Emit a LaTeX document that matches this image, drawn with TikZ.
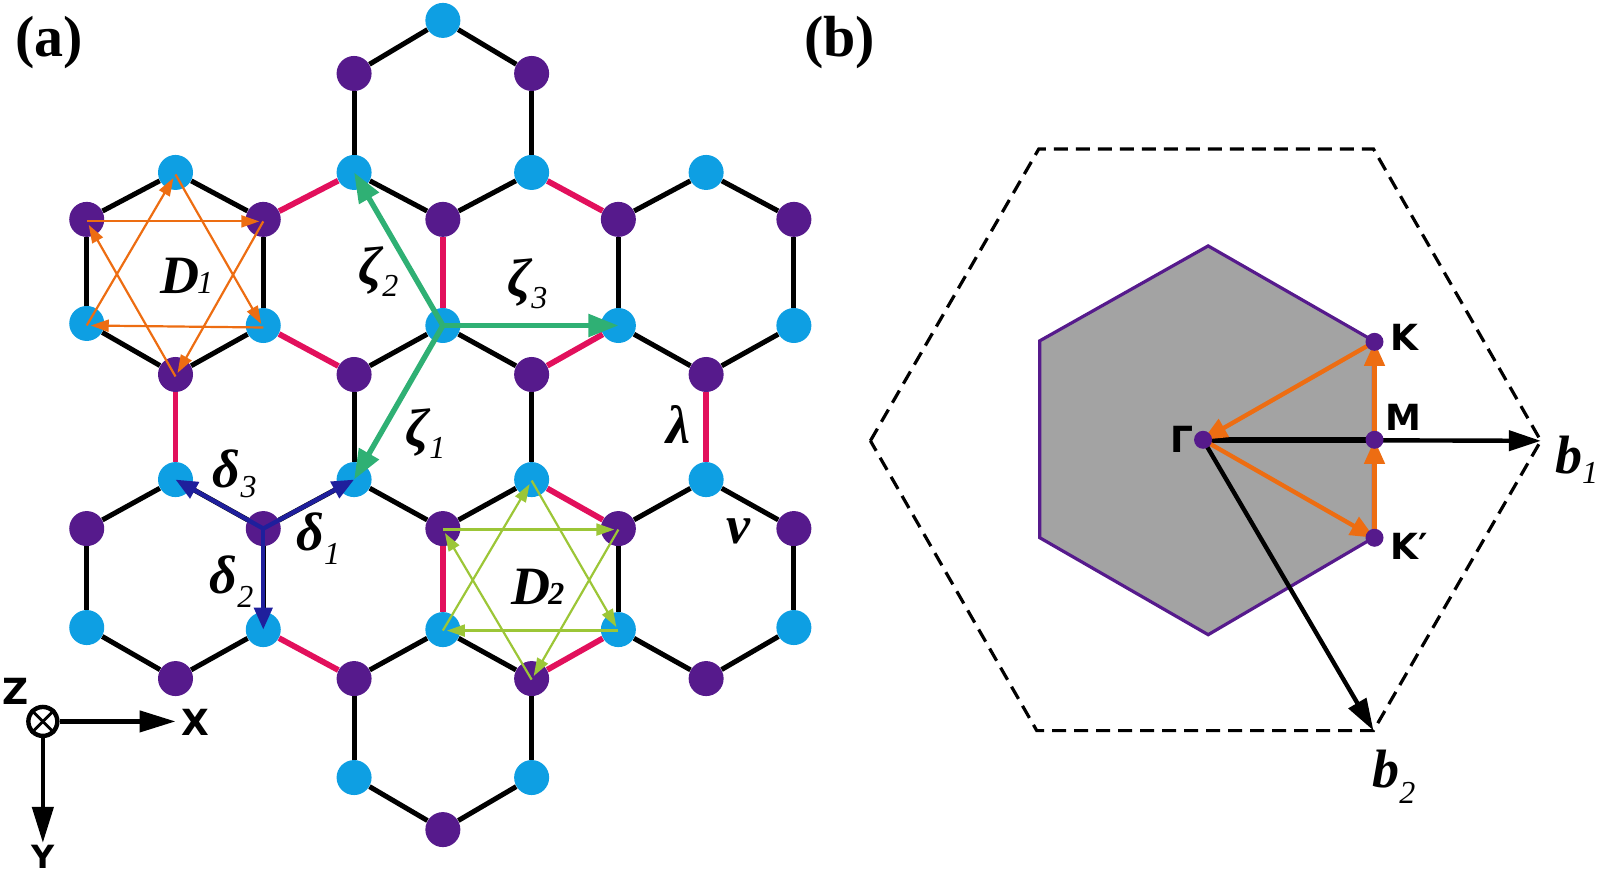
\documentclass[tikz,border=0pt]{standalone}
\usepackage{fontspec}
\setmainfont{Liberation Serif}
\newfontfamily\lblsans{DejaVu Sans}
\usetikzlibrary{arrows.meta}
\pgfdeclarelayer{front}
\pgfsetlayers{main,front}
\definecolor{sitepurple}{HTML}{561A8C}
\definecolor{siteblue}{HTML}{0E9FE3}
\definecolor{bondpink}{HTML}{E2105C}
\definecolor{arrgreen}{HTML}{2FB074}
\definecolor{arrnavy}{HTML}{1F1F9C}
\definecolor{arrorange}{HTML}{ED6D12}
\definecolor{arrlime}{HTML}{9CC637}
\definecolor{bzgrey}{HTML}{A3A3A3}
\tikzset{
 sitep/.style={circle,fill=sitepurple,minimum size=17.5pt,inner sep=0pt},
 siteb/.style={circle,fill=siteblue,minimum size=17.5pt,inner sep=0pt},
 hs/.style={circle,fill=sitepurple,minimum size=9pt,inner sep=0pt},
 blk/.style={draw=black,line width=2.5pt},
 pnk/.style={draw=bondpink,line width=2.9pt},
 grn/.style={color=arrgreen,line width=2.7pt,-{Triangle[length=15pt,width=11pt]}},
 nav/.style={color=arrnavy,line width=2.2pt,-{Triangle[length=11pt,width=9pt]}},
 org/.style={color=arrorange,line width=1.1pt,shorten >=2pt,-{Triangle[length=9pt,width=6pt,fill=arrorange]}},
 lim/.style={color=arrlime,line width=1.1pt,shorten >=2pt,-{Triangle[length=9pt,width=6pt,fill=arrlime]}},
 thk/.style={color=arrorange,line width=2.2pt,-{Triangle[length=12pt,width=10pt]}},
 vec/.style={color=black,line width=2.2pt,-{Triangle[length=16pt,width=10pt]}},
 axs/.style={color=black,line width=2.2pt,-{Triangle[length=18pt,width=10.5pt]}},
 lab/.style={inner sep=0pt,font=\bfseries\itshape\fontsize{27}{27}\selectfont},
 tag/.style={inner sep=0pt,font=\bfseries\fontsize{29}{29}\selectfont},
 sf/.style={inner sep=0pt,font=\lblsans\bfseries\fontsize{18}{18}\selectfont},
}
\newcommand{\sbn}[1]{{\normalfont\itshape\fontsize{16}{16}\selectfont #1}}
\begin{document}
\begin{tikzpicture}[x=0.5102pt,y=-0.5102pt]
\useasboundingbox (0,0) rectangle (1568,858.5);
% blue sites
\foreach \n/\x/\y in {E0/434/20,D2/347/169,F2/521/169,B2/172/169,H2/692/169,A4/85/317,C4/258/319,E4/434/319,G4/606/319,I4/778/319,B6/172/470,D6/347/470,F6/521/470,H6/692/470,A8/85/615,C8/258/617,E8/434/617,G8/606/617,I8/778/615,D10/347/762,F10/521/762}
  \node[siteb] (\n) at (\x,\y) {};
% purple sites
\foreach \n/\x/\y in {D1/347/72,F1/521/72,A3/85/215,C3/258/215,E3/434/215,G3/606/215,I3/778/215,B5/172/367,D5/347/367,F5/521/367,H5/692/367,A7/85/518,C7/258/518,E7/434/518,G7/606/518,I7/778/518,B9/172/665,D9/347/665,F9/521/665,H9/692/665,E11/434/813}
  \node[sitep] (\n) at (\x,\y) {};
% black bonds
\foreach \a/\b in {E0/D1,E0/F1,D1/D2,F1/F2,D2/E3,F2/E3,B2/A3,A3/A4,A4/B5,B5/C4,C4/C3,C3/B2,H2/G3,G3/G4,G4/H5,H5/I4,I4/I3,I3/H2,E4/D5,E4/F5,D5/D6,F5/F6,D6/C7,D6/E7,B6/A7,B6/C7,F6/E7,H6/G7,H6/I7,A7/A8,C7/C8,G7/G8,I7/I8,A8/B9,B9/C8,D9/E8,E8/F9,G8/H9,H9/I8,D9/D10,F9/F10,D10/E11,F10/E11}
  \draw[blk] (\a) -- (\b);
% pink bonds
\foreach \a/\b in {C3/D2,C4/D5,B5/B6,E3/E4,F2/G3,F5/G4,H5/H6,F6/G7,E7/E8,F9/G8,C8/D9}
  \draw[pnk] (\a) -- (\b);
% orange star
\foreach \a/\b in {A3/C3,C3/B5,B5/A3,B2/C4,C4/A4,A4/B2}
  \draw[org] ([yshift=-1pt]\a.center) -- ([yshift=-1pt]\b.center);
% lime star
\foreach \a/\b in {E7/G7,G7/F9,F9/E7,F6/G8,G8/E8,E8/F6}
  \draw[lim] ([yshift=-0.5pt]\a.center) -- ([yshift=-0.5pt]\b.center);
% green
\foreach \b in {D2,G4,D6}
  \draw[grn] (E4.center) -- (\b.center);
% navy
\foreach \b in {B6,D6,C8}
  \draw[nav] (C7.center) -- (\b.center);
% labels a
\node[tag] (ta) at (48,42) {(a)};
\node[tag] (tb) at (823,42) {(b)};
\node[lab] (d1) at (183,270) {D\hspace{-1pt}\sbn{1}};
\node[lab] (d2) at (527,575) {D\hspace{-1pt}{\normalfont\bfseries\itshape\fontsize{16}{16}\selectfont 2}};
\node[lab] (z2) at (371,266) {ζ\raisebox{-6pt}{\sbn{2}}};
\node[lab] (z3) at (517,278) {ζ\raisebox{-6pt}{\sbn{3}}};
\node[lab] (z1) at (417,425) {ζ\raisebox{-6pt}{\sbn{1}}};
\node[lab] (l3) at (230,464) {δ\raisebox{-5pt}{\sbn{3}}};
\node[lab] (l1) at (312,528) {δ\raisebox{-7pt}{\sbn{1}}};
\node[lab] (l2) at (227,570) {δ\raisebox{-7pt}{\sbn{2}}};
\node[lab] (la) at (665,416) {λ};
\node[lab] (nu) at (724,521) {ν};
% axes
\node[circle,draw=black,line width=2.2pt,minimum size=14.5pt,inner sep=0pt] (zc) at (42,707) {};
\draw[line width=1.4pt] (zc.45) -- (zc.225);
\draw[line width=1.4pt] (zc.135) -- (zc.315);
\coordinate (xt) at (172,707);
\coordinate (yt) at (42,826);
\draw[axs] (zc) -- (xt);
\draw[axs] (zc) -- (yt);
\node[sf] (zl) at (15,678) {Z};
\node[sf] (xl) at (191,708) {X};
\node[sf,font=\lblsans\bfseries\fontsize{16}{16}\selectfont] (yl) at (42,840) {Y};
% panel b
\coordinate (h1) at (853,432);
\coordinate (h2) at (1018,146);
\coordinate (h3) at (1346,146);
\coordinate (h4) at (1510,432);
\coordinate (h5) at (1346,716);
\coordinate (h6) at (1016,716);
\draw[black,line width=1.6pt,dash pattern=on 7pt off 4pt] (h1) -- (h2) -- (h3) -- (h4) -- (h5) -- (h6) -- cycle;
\coordinate (g1) at (1184,241);
\coordinate (g2) at (1346,334);
\coordinate (g3) at (1346,527);
\coordinate (g4) at (1184,622);
\coordinate (g5) at (1019,527);
\coordinate (g6) at (1019,334);
\filldraw[fill=bzgrey,draw=sitepurple,line width=1.6pt] (g1) -- (g2) -- (g3) -- (g4) -- (g5) -- (g6) -- cycle;
\begin{pgfonlayer}{front}
\node[hs] (G) at (1179,431) {};
\node[hs] (M) at (1347,431) {};
\node[hs] (K) at (1347,335) {};
\node[hs] (Kp) at (1347,527) {};
\end{pgfonlayer}
\draw[black,line width=2.8pt] (G.center) -- (M.center);
\draw[vec] (G.center) -- (h4);
\draw[vec] (G.center) -- (h5);
\draw[thk] (K.center) -- (G.center);
\draw[thk] (G.center) -- (Kp.center);
\draw[thk] (Kp.center) -- (M.center);
\draw[thk] (M.center) -- (K.center);
\node[sf] (Gl) at (1158,431) {Γ};
\node[sf] (Ml) at (1375,409) {M};
\node[sf] (Kl) at (1376,331) {K};
\node[sf,anchor=west] (Kpl) at (1362,535) {K′};
\node[lab] (b1) at (1545,451) {b\raisebox{-5pt}{\sbn{1}}};
\node[lab] (b2) at (1366,761) {b\raisebox{-8pt}{\sbn{2}}};
\end{tikzpicture}
\end{document}
